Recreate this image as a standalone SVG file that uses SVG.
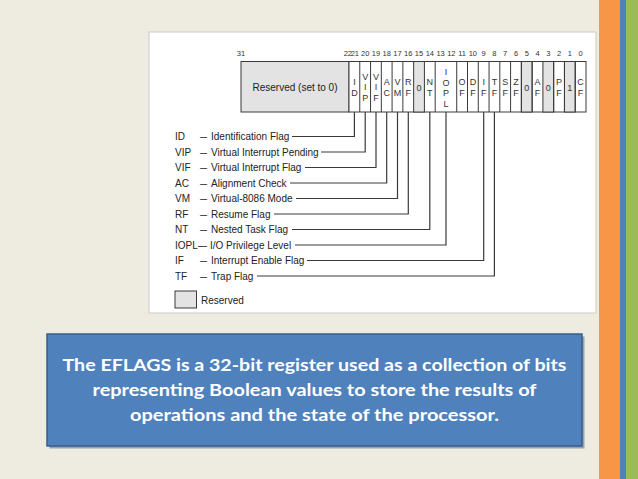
<svg xmlns="http://www.w3.org/2000/svg" width="638" height="479" viewBox="0 0 638 479">
<style>
.cell{fill:#ffffff;stroke:#3a3a3a;stroke-width:1}
.shade{fill:#e3e3e3;stroke:#3a3a3a;stroke-width:1}
.num{font-family:"Liberation Sans",Arial,sans-serif;font-size:7.5px;fill:#333;text-anchor:middle}
.let{font-family:"Liberation Sans",Arial,sans-serif;font-size:9px;fill:#333;text-anchor:middle}
.leg{font-family:"Liberation Sans",Arial,sans-serif;font-size:10px;fill:#222}
.con{fill:none;stroke:#3a3a3a;stroke-width:1.2}
.cap{font-family:Lato,"Open Sans",sans-serif;font-weight:bold;font-size:17px;fill:#ffffff;text-anchor:middle}
</style>
<rect x="0" y="0" width="638" height="479" fill="#eeece1"/>
<g id="stripes">
<rect x="599" y="0" width="21" height="479" fill="#f79646"/>
<rect x="620" y="0" width="6" height="479" fill="#4f81bd"/>
<rect x="626" y="0" width="12" height="479" fill="#9bbb59"/>
</g>
<g id="panel">
<rect x="149" y="32" width="447" height="281" fill="#ffffff" stroke="#c9c9c9" stroke-width="1"/>
</g>
<g id="register">
<rect class="shade" x="241" y="61.5" width="108" height="50.5"/>
<text class="leg" x="295" y="91" text-anchor="middle" font-size="10.2">Reserved (set to 0)</text>
<rect class="cell" x="349" y="61.5" width="237" height="50.5"/>
<rect class="shade" x="413.64" y="61.5" width="10.77" height="50.5"/>
<rect class="shade" x="521.36" y="61.5" width="10.78" height="50.5"/>
<rect class="shade" x="542.91" y="61.5" width="10.77" height="50.5"/>
<rect class="shade" x="564.45" y="61.5" width="10.78" height="50.5"/>
<g stroke="#3a3a3a" stroke-width="1">
<line x1="359.77" y1="61.5" x2="359.77" y2="112"/>
<line x1="370.55" y1="61.5" x2="370.55" y2="112"/>
<line x1="381.32" y1="61.5" x2="381.32" y2="112"/>
<line x1="392.09" y1="61.5" x2="392.09" y2="112"/>
<line x1="402.86" y1="61.5" x2="402.86" y2="112"/>
<line x1="435.18" y1="61.5" x2="435.18" y2="112"/>
<line x1="456.73" y1="61.5" x2="456.73" y2="112"/>
<line x1="467.50" y1="61.5" x2="467.50" y2="112"/>
<line x1="478.27" y1="61.5" x2="478.27" y2="112"/>
<line x1="489.05" y1="61.5" x2="489.05" y2="112"/>
<line x1="499.82" y1="61.5" x2="499.82" y2="112"/>
<line x1="510.59" y1="61.5" x2="510.59" y2="112"/>
<line x1="521.36" y1="61.5" x2="521.36" y2="112"/>
<line x1="532.14" y1="61.5" x2="532.14" y2="112"/>
<line x1="553.68" y1="61.5" x2="553.68" y2="112"/>
<line x1="564.45" y1="61.5" x2="564.45" y2="112"/>
<line x1="575.23" y1="61.5" x2="575.23" y2="112"/>
</g>
<g id="bitnums">
<text class="num" x="241" y="56" text-anchor="start">31</text>
<text class="num" x="347.8" y="56" text-anchor="end">22</text>
<text class="num" x="354.8" y="56">21</text>
<text class="num" x="365.16" y="56">20</text>
<text class="num" x="375.93" y="56">19</text>
<text class="num" x="386.71" y="56">18</text>
<text class="num" x="397.48" y="56">17</text>
<text class="num" x="408.25" y="56">16</text>
<text class="num" x="419.02" y="56">15</text>
<text class="num" x="429.80" y="56">14</text>
<text class="num" x="440.57" y="56">13</text>
<text class="num" x="451.34" y="56">12</text>
<text class="num" x="462.11" y="56">11</text>
<text class="num" x="472.89" y="56">10</text>
<text class="num" x="483.66" y="56">9</text>
<text class="num" x="494.43" y="56">8</text>
<text class="num" x="505.20" y="56">7</text>
<text class="num" x="515.98" y="56">6</text>
<text class="num" x="526.75" y="56">5</text>
<text class="num" x="537.52" y="56">4</text>
<text class="num" x="548.30" y="56">3</text>
<text class="num" x="559.07" y="56">2</text>
<text class="num" x="569.84" y="56">1</text>
<text class="num" x="580.61" y="56">0</text>
</g>
<g id="bitlabels">
<text class="let" x="354.39" y="85">I</text><text class="let" x="354.39" y="95.7">D</text>
<text class="let" x="365.16" y="79.5">V</text><text class="let" x="365.16" y="90.2">I</text><text class="let" x="365.16" y="100.9">P</text>
<text class="let" x="375.93" y="79.5">V</text><text class="let" x="375.93" y="90.2">I</text><text class="let" x="375.93" y="100.9">F</text>
<text class="let" x="386.71" y="85">A</text><text class="let" x="386.71" y="95.7">C</text>
<text class="let" x="397.48" y="85">V</text><text class="let" x="397.48" y="95.7">M</text>
<text class="let" x="408.25" y="85">R</text><text class="let" x="408.25" y="95.7">F</text>
<text class="let" x="419.02" y="90.5">0</text>
<text class="let" x="429.80" y="85">N</text><text class="let" x="429.80" y="95.7">T</text>
<text class="let" x="445.95" y="74.8">I</text><text class="let" x="445.95" y="85.5">O</text><text class="let" x="445.95" y="96.2">P</text><text class="let" x="445.95" y="106.9">L</text>
<text class="let" x="462.11" y="85">O</text><text class="let" x="462.11" y="95.7">F</text>
<text class="let" x="472.89" y="85">D</text><text class="let" x="472.89" y="95.7">F</text>
<text class="let" x="483.66" y="85">I</text><text class="let" x="483.66" y="95.7">F</text>
<text class="let" x="494.43" y="85">T</text><text class="let" x="494.43" y="95.7">F</text>
<text class="let" x="505.20" y="85">S</text><text class="let" x="505.20" y="95.7">F</text>
<text class="let" x="515.98" y="85">Z</text><text class="let" x="515.98" y="95.7">F</text>
<text class="let" x="526.75" y="90.5">0</text>
<text class="let" x="537.52" y="85">A</text><text class="let" x="537.52" y="95.7">F</text>
<text class="let" x="548.30" y="90.5">0</text>
<text class="let" x="559.07" y="85">P</text><text class="let" x="559.07" y="95.7">F</text>
<text class="let" x="569.84" y="90.5">1</text>
<text class="let" x="580.61" y="85">C</text><text class="let" x="580.61" y="95.7">F</text>
</g>
</g>
<g id="connectors">
<polyline class="con" points="354.4,112 354.4,136.5 292,136.5"/>
<polyline class="con" points="365.2,112 365.2,152 321,152"/>
<polyline class="con" points="376,112 376,167.5 305,167.5"/>
<polyline class="con" points="386.7,112 386.7,183 290,183"/>
<polyline class="con" points="397.5,112 397.5,198.5 296,198.5"/>
<polyline class="con" points="408.3,112 408.3,214 274,214"/>
<polyline class="con" points="429.8,112 429.8,229.5 292,229.5"/>
<polyline class="con" points="446,112 446,245 295,245"/>
<polyline class="con" points="483.7,112 483.7,260.5 307,260.5"/>
<polyline class="con" points="494.4,112 494.4,276 257,276"/>
</g>
<g id="legend">
<g id="leg-id"><text class="leg" x="175" y="140">ID</text><text class="leg" x="200" y="140" textLength="7" lengthAdjust="spacingAndGlyphs">—</text><text class="leg" x="211" y="140">Identification Flag</text></g>
<g id="leg-vip"><text class="leg" x="175" y="155.5">VIP</text><text class="leg" x="200" y="155.5" textLength="7" lengthAdjust="spacingAndGlyphs">—</text><text class="leg" x="211" y="155.5">Virtual Interrupt Pending</text></g>
<g id="leg-vif"><text class="leg" x="175" y="171">VIF</text><text class="leg" x="200" y="171" textLength="7" lengthAdjust="spacingAndGlyphs">—</text><text class="leg" x="211" y="171">Virtual Interrupt Flag</text></g>
<g id="leg-ac"><text class="leg" x="175" y="186.5">AC</text><text class="leg" x="200" y="186.5" textLength="7" lengthAdjust="spacingAndGlyphs">—</text><text class="leg" x="211" y="186.5">Alignment Check</text></g>
<g id="leg-vm"><text class="leg" x="175" y="202">VM</text><text class="leg" x="200" y="202" textLength="7" lengthAdjust="spacingAndGlyphs">—</text><text class="leg" x="211" y="202">Virtual-8086 Mode</text></g>
<g id="leg-rf"><text class="leg" x="175" y="217.5">RF</text><text class="leg" x="200" y="217.5" textLength="7" lengthAdjust="spacingAndGlyphs">—</text><text class="leg" x="211" y="217.5">Resume Flag</text></g>
<g id="leg-nt"><text class="leg" x="175" y="233">NT</text><text class="leg" x="200" y="233" textLength="7" lengthAdjust="spacingAndGlyphs">—</text><text class="leg" x="211" y="233">Nested Task Flag</text></g>
<g id="leg-iopl"><text class="leg" x="175" y="248.5">IOPL</text><text class="leg" x="198" y="248.5" textLength="9" lengthAdjust="spacingAndGlyphs">—</text><text class="leg" x="210" y="248.5">I/O Privilege Level</text></g>
<g id="leg-if"><text class="leg" x="175" y="264">IF</text><text class="leg" x="200" y="264" textLength="7" lengthAdjust="spacingAndGlyphs">—</text><text class="leg" x="211" y="264">Interrupt Enable Flag</text></g>
<g id="leg-tf"><text class="leg" x="175" y="279.5">TF</text><text class="leg" x="200" y="279.5" textLength="7" lengthAdjust="spacingAndGlyphs">—</text><text class="leg" x="211" y="279.5">Trap Flag</text></g>
<g id="leg-reserved"><rect class="shade" x="175" y="291" width="21.5" height="17" stroke="#555"/><text class="leg" x="201" y="303.5">Reserved</text></g>
</g>
<g id="caption">
<rect x="48" y="335" width="535" height="112" fill="#385d8a" opacity="0.5" transform="translate(1.5,1.5)"/>
<rect x="47" y="334" width="535" height="112" fill="#4f81bd" stroke="#385d8a" stroke-width="1.5"/>
<text class="cap" x="314.5" y="371" textLength="504" lengthAdjust="spacingAndGlyphs">The EFLAGS is a 32-bit register used as a collection of bits</text>
<text class="cap" x="314.5" y="396" textLength="444" lengthAdjust="spacingAndGlyphs">representing Boolean values to store the results of</text>
<text class="cap" x="314.5" y="421" textLength="369" lengthAdjust="spacingAndGlyphs">operations and the state of the processor.</text>
</g>
</svg>
